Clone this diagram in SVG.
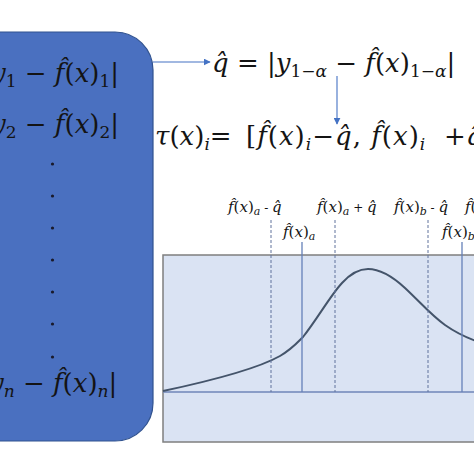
<svg xmlns="http://www.w3.org/2000/svg" width="474" height="474" viewBox="0 0 474 474">
<style>
.m { font-family: "DejaVu Serif", "Liberation Serif", serif; fill: #141414; }
.big { font-size: 26px; }
.lbl { font-size: 15px; }
.op { font-size: 12px; }
.i { font-style: italic; }
.dash { stroke: #61739c; stroke-width: 1; stroke-dasharray: 3 2; fill: none; }
.solid { stroke: #6580b8; stroke-width: 1.3; fill: none; }
.conn { stroke: #4472c4; stroke-width: 1.1; fill: none; }
</style>
<defs>
<marker id="ah" viewBox="0 0 10 10" refX="9" refY="5" markerWidth="7" markerHeight="7" orient="auto" markerUnits="userSpaceOnUse">
<path d="M0,0 L10,5 L0,10 z" fill="#4472c4"/>
</marker>
</defs>
<rect width="474" height="474" fill="#ffffff"/>

<g id="residuals">
<rect x="-40" y="32" width="193" height="409" rx="38" ry="38" fill="#4a70c0" stroke="#30528f" stroke-width="1.2"/>
<text class="m big" x="-9" y="82"><tspan class="i">y</tspan><tspan font-size="17" dy="5">1</tspan><tspan dy="-5"> − </tspan><tspan class="i">f̂</tspan>(<tspan class="i">x</tspan>)<tspan font-size="17" dy="5">1</tspan><tspan dy="-5">|</tspan></text>
<text class="m big" x="-9" y="133"><tspan class="i">y</tspan><tspan font-size="17" dy="5">2</tspan><tspan dy="-5"> − </tspan><tspan class="i">f̂</tspan>(<tspan class="i">x</tspan>)<tspan font-size="17" dy="5">2</tspan><tspan dy="-5">|</tspan></text>
<g fill="#1a1a2a">
<circle cx="52.5" cy="164" r="1.6"/>
<circle cx="52.5" cy="196" r="1.6"/>
<circle cx="52.5" cy="228" r="1.6"/>
<circle cx="52.5" cy="260" r="1.6"/>
<circle cx="52.5" cy="292" r="1.6"/>
<circle cx="52.5" cy="324" r="1.6"/>
<circle cx="52.5" cy="357" r="1.6"/>
</g>
<text class="m big" x="-11" y="392"><tspan class="i">y</tspan><tspan class="i" font-size="17" dy="5">n</tspan><tspan dy="-5"> − </tspan><tspan class="i">f̂</tspan>(<tspan class="i">x</tspan>)<tspan class="i" font-size="17" dy="5">n</tspan><tspan dy="-5">|</tspan></text>
</g>

<g id="quantile">
<text class="m big" x="212" y="72"><tspan class="i">q̂</tspan> = |<tspan class="i">y</tspan><tspan font-size="17" dy="5">1−</tspan><tspan class="i" font-size="17">α</tspan><tspan dy="-5"> − </tspan><tspan class="i">f̂</tspan>(<tspan class="i">x</tspan>)<tspan font-size="17" dy="5">1−</tspan><tspan class="i" font-size="17">α</tspan><tspan dy="-5">|</tspan></text>
</g>

<g id="interval">
<text class="m big" x="155" y="145"><tspan class="i">τ</tspan>(<tspan class="i">x</tspan>)<tspan class="i" font-size="17" dy="5">i</tspan><tspan dy="-5">=</tspan><tspan x="246" letter-spacing="1">[<tspan class="i">f̂</tspan>(<tspan class="i">x</tspan>)<tspan class="i" font-size="17" dy="5">i</tspan><tspan dy="-5">−</tspan><tspan class="i">q̂</tspan>, <tspan class="i">f̂</tspan>(<tspan class="i">x</tspan>)<tspan class="i" font-size="17" dy="5">i</tspan></tspan><tspan dy="-5" x="444">+</tspan><tspan class="i" x="466">q̂</tspan>]</text>
</g>

<g id="chart">
<rect x="163" y="255" width="330" height="187" fill="#dae3f3" stroke="#7f7f7f" stroke-width="1.5"/>
<line x1="163" y1="392" x2="474" y2="392" stroke="#6f86b8" stroke-width="1.3"/>
<path d="M163,391 C210,381 255,370 280,356 C292,349 297,343 303,337 C318,318 330,296 342,283 C352,272 360,269 368,269 C380,269 392,276 405,288 C420,302 432,316 445,325 C455,332 465,337 476,341" stroke="#44546a" stroke-width="2" fill="none"/>
<line class="dash" x1="271" y1="220" x2="271" y2="392"/>
<line class="dash" x1="335" y1="220" x2="335" y2="392"/>
<line class="dash" x1="428" y1="220" x2="428" y2="392"/>
<line class="solid" x1="302" y1="242" x2="302" y2="392"/>
<line class="solid" x1="462" y1="242" x2="462" y2="392"/>
<text class="m lbl" x="228" y="212"><tspan class="i">f̂</tspan>(<tspan class="i">x</tspan>)<tspan class="i" font-size="11" dy="3">a</tspan><tspan class="op" dy="-3"> - </tspan><tspan class="i">q̂</tspan></text>
<text class="m lbl" x="283" y="237"><tspan class="i">f̂</tspan>(<tspan class="i">x</tspan>)<tspan class="i" font-size="11" dy="3">a</tspan></text>
<text class="m lbl" x="317" y="212"><tspan class="i">f̂</tspan>(<tspan class="i">x</tspan>)<tspan class="i" font-size="11" dy="3">a</tspan><tspan class="op" dy="-3"> + </tspan><tspan class="i">q̂</tspan></text>
<text class="m lbl" x="394" y="212"><tspan class="i">f̂</tspan>(<tspan class="i">x</tspan>)<tspan class="i" font-size="11" dy="3">b</tspan><tspan class="op" dy="-3"> - </tspan><tspan class="i">q̂</tspan></text>
<text class="m lbl" x="465" y="212"><tspan class="i">f̂</tspan>(<tspan class="i">x</tspan>)<tspan class="i" font-size="11" dy="3">b</tspan><tspan class="op" dy="-3"> + </tspan><tspan class="i">q̂</tspan></text>
<text class="m lbl" x="442" y="237"><tspan class="i">f̂</tspan>(<tspan class="i">x</tspan>)<tspan class="i" font-size="11" dy="3">b</tspan></text>
</g>

<g id="connectors">
<line class="conn" x1="153" y1="62" x2="210" y2="62" marker-end="url(#ah)"/>
<line class="conn" x1="337" y1="76" x2="337" y2="124" marker-end="url(#ah)"/>
</g>
</svg>
